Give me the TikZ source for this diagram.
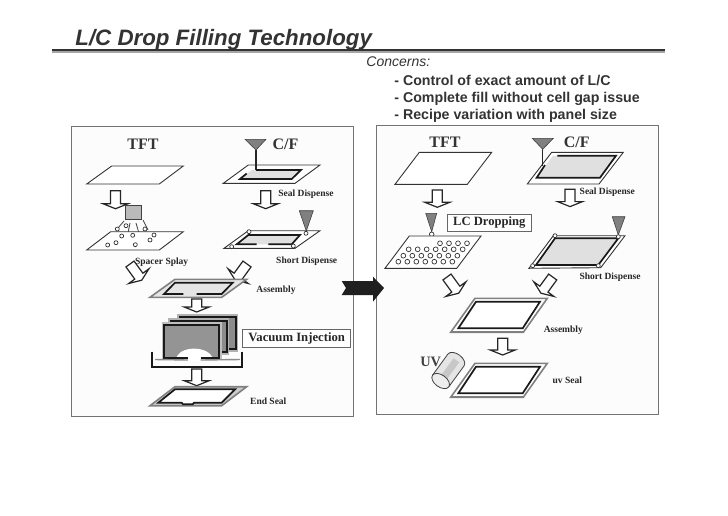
\documentclass[tikz,border=0pt]{standalone}
\usepackage{fontspec}
\setmainfont{Liberation Serif}
\newfontfamily\headfont{Liberation Sans}
\newcommand{\fsz}[1]{\fontsize{#1}{#1}\selectfont}
\tikzset{
  plate/.style={draw=black!80,line width=0.45pt,fill=white},
  platefill/.style={fill=black!12,draw=none},
  seal/.style={draw=black!90,line width=0.85pt,line join=miter},
  thinseal/.style={draw=black!85,line width=0.7pt},
  edgeband/.style={draw=black!50,line width=0.8pt,fill=white,line join=miter},
  blockarrow/.style={draw=black!85,line width=0.6pt,fill=white,line join=miter},
  nozzle/.style={draw=black!75,line width=0.3pt,fill=black!50},
  dot/.style={draw=black!80,line width=0.35pt,fill=white},
  steplabel/.style={font=\bfseries\fsz{4.75},text=black!85,inner sep=0pt},
  boxlabel/.style={draw=black!60,line width=0.4pt,fill=white,inner sep=0pt},
  panel/.style={draw=black!55,line width=0.5pt,fill=black!1},
  concern/.style={font=\headfont\bfseries\fsz{7.1},text=black!80,inner sep=0pt,anchor=base west},
}
% tail x, tail y, rotation, total length
\newcommand{\hollowarr}[4]{%
  \draw[blockarrow,shift={(#1,#2)},rotate=#3]
    (-5,0) -- (-5,#4-5) -- (-12.5,#4-5) -- (0,#4) -- (12.5,#4-5) -- (5,#4-5) -- (5,0) -- cycle;}
\begin{document}
\begin{tikzpicture}[x=0.5pt,y=-0.5pt]
\useasboundingbox (0,0) rectangle (728,515);
\fill[white] (0,0) rectangle (728,515);
% title
\node[font=\headfont\bfseries\itshape\fsz{11.15},text=black!80,inner sep=0pt,anchor=base west] (title) at (75,45) {L/C Drop Filling Technology};
\fill[black!35] (52,50.5) rectangle (665,52.5);
\fill[black!80] (52,49) rectangle (665,51);
\node[font=\headfont\itshape\fsz{7},text=black!80,inner sep=0pt,anchor=base west] (concerns) at (366,66) {Concerns:};
\node[concern] (c1) at (394,85) {- Control of exact amount of L/C};
\node[concern] (c2) at (394,102) {- Complete fill without cell gap issue};
\node[concern] (c3) at (394,119) {- Recipe variation with panel size};
% panels
\draw[panel] (71,126) rectangle (353,416);
\draw[panel] (376,125) rectangle (658,414);

%%% LEFT PANEL
\node[font=\bfseries\fsz{8},text=black!80,inner sep=0pt] (ltft) at (143,144) {TFT};
\node[font=\bfseries\fsz{8},text=black!80,inner sep=0pt] (lcf) at (285.5,144) {C/F};
\draw[plate] (86.7,184) -- (111.7,166) -- (183.3,166) -- (159.3,184) -- cycle;
% C/F plate
\draw[plate] (223.3,183.3) -- (248.3,165) -- (320,165) -- (295,183.3) -- cycle;
\fill[platefill] (240,179) -- (252,170) -- (301,170) -- (291.7,179) -- cycle;
\draw[thinseal] (256,150) -- (256,170);
\draw[seal] (256,170) -- (301,170) -- (291.7,179) -- (240,179) -- (246.7,173.5);
\draw[nozzle] (245,139.3) -- (266,139.3) -- (256,150) -- cycle;
\hollowarr{115.5}{190.7}{0}{18}
\hollowarr{265.7}{190.7}{0}{18}
\node[steplabel] (lseal) at (306,194) {Seal Dispense};
% spacer splay
\draw[black!75,line width=0.3pt,fill=black!27] (125.7,205) rectangle (141,219.3);
\draw[black!75,line width=0.4pt] (124,221) -- (118,228) (130,223) -- (127,238) (136,223) -- (139.5,235) (143,220) -- (148,230);
\draw[plate] (86.7,250) -- (110.7,231.7) -- (183.3,231.7) -- (159.3,250) -- cycle;
\foreach \cx/\cy in {117.3/229,126/225.7,145/229,154/235,150/240,132.7/235.3,121.7/236,116/242.7,107.7/245,135.3/244.7}
  \draw[dot] (\cx,\cy) circle[radius=2];
\node[steplabel] (spacer) at (161.7,262.3) {Spacer Splay};
% short dispense
\draw[plate] (224,248.3) -- (248.3,230.7) -- (320,230.7) -- (295,248.3) -- cycle;
\fill[platefill] (236.7,244.3) -- (248.3,235) -- (300,235) -- (291.7,244.3) -- cycle;
\draw[seal] (268.3,244.3) -- (291.7,244.3) -- (300,235) -- (248.3,235) -- (236.7,244.3) -- (256.7,244.3);
\draw[nozzle] (299.3,210.7) -- (313.3,210.7) -- (306.3,231) -- cycle;
\foreach \cx/\cy in {249/231.7,306/233.3,293.3/246,231.7/246.7}
  \draw[dot] (\cx,\cy) circle[radius=2];
\node[steplabel] (lshort) at (306.7,261.7) {Short Dispense};
\hollowarr{130}{264}{36}{20}
\hollowarr{247}{264}{-36}{20}
% assembly
\draw[edgeband,fill=black!10] (150,297.3) -- (175,279.3) -- (246.7,279.3) -- (221.7,297.3) -- cycle;
\draw[seal] (196.7,294) -- (221.7,294) -- (232.7,282.7) -- (175,282.7) -- (164,294) -- (183.3,294);
\node[steplabel] (lassembly) at (276,290.7) {Assembly};
\hollowarr{196.7}{299}{0}{13}
% vacuum stack
\foreach \xa/\ya/\xb/\yb in {177.3/314.3/238.3/351.7,168.3/317.7/229.3/355}{
  \fill[black!30] (\xa,\ya) rectangle (\xb,\yb);
  \draw[black!90,line width=0.85pt,fill=black!45] (\xa+2.3,\ya+3) rectangle (\xb-2.3,\yb-3);
}
\fill[black!25] (161.7,321.7) rectangle (221.7,360);
\draw[black!90,line width=0.95pt,fill=black!42] (164,325) rectangle (219.3,358.3);
\fill[white] (176,359.5) .. controls (178,345) and (210,345) .. (213,359.5) -- cycle;
\fill[white] (188,355) rectangle (200.7,361);
\draw[black!90,line width=0.95pt] (176,358.3) -- (188.3,358.3) (200.7,358.3) -- (213,358.3);
\draw[black!45,line width=0.7pt] (155,359.5) -- (188,360) (200.7,360) -- (240,359.5);
\draw[black!90,line width=0.95pt] (152.3,351.7) -- (152.3,366.7) -- (241.7,366.7) -- (241.7,351.7);
\node[boxlabel,minimum width=54pt,minimum height=9pt,font=\bfseries\fsz{6.35},text=black!85] (vacuum) at (296.7,338) {Vacuum Injection};
\hollowarr{196.7}{369}{0}{16.7}
% end seal
\draw[edgeband,fill=black!20] (150,405.7) -- (175,386.7) -- (246.7,386.7) -- (221.7,405.7) -- cycle;
\draw[seal,fill=white] (175,389.3) -- (235,389.3) -- (221.7,402.7) -- (194,402.7) -- (192.7,404.3) -- (183,404.3) -- (181.7,402.7) -- (158.3,402.7) -- cycle;
\node[steplabel] (endseal) at (268.3,401) {End Seal};

%%% BIG ARROW
\fill[black!88] (341.7,281) -- (373,281) -- (373,276.7) -- (384,288) -- (373,301.7) -- (373,295) -- (341.7,295) -- (346,288) -- cycle;

%%% RIGHT PANEL
\node[font=\bfseries\fsz{8},text=black!80,inner sep=0pt] (rtft) at (445,142.3) {TFT};
\node[font=\bfseries\fsz{8},text=black!80,inner sep=0pt] (rcf) at (576.7,142.3) {C/F};
\draw[plate] (395,184.3) -- (419.3,152.3) -- (491.7,152.3) -- (467.3,184.3) -- cycle;
\draw[plate] (527.3,184) -- (551.7,152.3) -- (623.3,152.3) -- (599,184) -- cycle;
\fill[platefill] (536.7,177.7) -- (553,155.7) -- (616,155.7) -- (600,177.7) -- cycle;
\draw[thinseal] (542.7,149.3) -- (542.7,166);
\draw[seal] (557.3,155.7) -- (616,155.7) -- (600,177.7) -- (536.7,177.7) -- (545,165);
\draw[nozzle] (532.3,138.3) -- (553.3,138.3) -- (542.7,149.3) -- cycle;
\hollowarr{437.3}{190}{0}{17.3}
\hollowarr{570}{189.3}{0}{17.3}
\node[steplabel] (rseal) at (607.3,192.3) {Seal Dispense};
\draw[nozzle] (425.7,213.3) -- (436.7,213.3) -- (431.7,231.7) -- cycle;
\draw[dot] (431.7,234.3) circle[radius=2.3];
\node[boxlabel,minimum width=42.4pt,minimum height=8.7pt,font=\bfseries\fsz{6.3},text=black!85] (drop) at (489.3,223) {LC Dropping};
\draw[plate] (385,268.3) -- (409.3,236) -- (481,236) -- (456.7,268.3) -- cycle;
\foreach \zx in {210,237,264,291} \draw[dot] ({370+\zx/3},243.3) circle[radius=2.4];
\foreach \zx in {116,143,170,197,224,251,278} \draw[dot] ({370+\zx/3},249.3) circle[radius=2.4];
\foreach \zx in {100,127,154,181,208,235,262} \draw[dot] ({370+\zx/3},255.7) circle[radius=2.4];
\foreach \zx in {85,112,139,166,193,220,247} \draw[dot] ({370+\zx/3},261.7) circle[radius=2.4];
% short dispense
\draw[plate] (529,268.3) -- (553.3,235.7) -- (625,235.7) -- (600.7,267.7) -- cycle;
\draw[seal,fill=black!12] (555,238.3) -- (618.3,238.3) -- (598.3,265) -- (536,265) -- cycle;
\draw[nozzle] (612.3,216.7) -- (625,216.7) -- (618.3,235) -- cycle;
\foreach \cx/\cy in {555/235.7,618.3/236.7,598.3/265.7,532.7/265.7}
  \draw[dot] (\cx,\cy) circle[radius=2];
\node[steplabel] (rshort) at (610,277.3) {Short Dispense};
\hollowarr{447}{277}{36}{20}
\hollowarr{552.7}{277}{-36}{20}
% assembly
\draw[edgeband] (450.7,332.3) -- (475,298.3) -- (547.3,298.3) -- (523.3,332.3) -- cycle;
\draw[black!50,line width=1pt] (450.7,332.3) -- (523.3,332.3);
\draw[seal] (476,301.7) -- (540,301.7) -- (522.7,328.3) -- (458.3,328.3) -- cycle;
\node[steplabel] (rassembly) at (563.3,330.7) {Assembly};
\hollowarr{502.7}{338.3}{0}{16.7}
% UV
\node[font=\bfseries\fsz{7.2},text=black!75,inner sep=0pt] (uv) at (430.7,361.7) {UV};
\begin{scope}[shift={(448.3,370.5)},rotate=54]
  \draw[black!75,line width=0.4pt,fill=black!10] (13,0) ellipse[x radius=6,y radius=10];
  \fill[black!10] (-13,-10) rectangle (13,10);
  \fill[black!22] (-13,-3) rectangle (13,4);
  \draw[black!75,line width=0.4pt] (-13,-10) -- (13,-10) (-13,10) -- (13,10);
  \draw[black!75,line width=0.4pt,fill=black!7] (-13,0) ellipse[x radius=6,y radius=10];
\end{scope}
\draw[edgeband] (450.7,397.3) -- (475,363.3) -- (547.3,363.3) -- (523.3,397.3) -- cycle;
\draw[black!50,line width=1pt] (450.7,397.3) -- (523.3,397.3);
\draw[seal] (476,366.7) -- (540,366.7) -- (522.7,393.3) -- (458.3,393.3) -- cycle;
\node[steplabel] (uvseal) at (567.3,380) {uv Seal};
\end{tikzpicture}
\end{document}
